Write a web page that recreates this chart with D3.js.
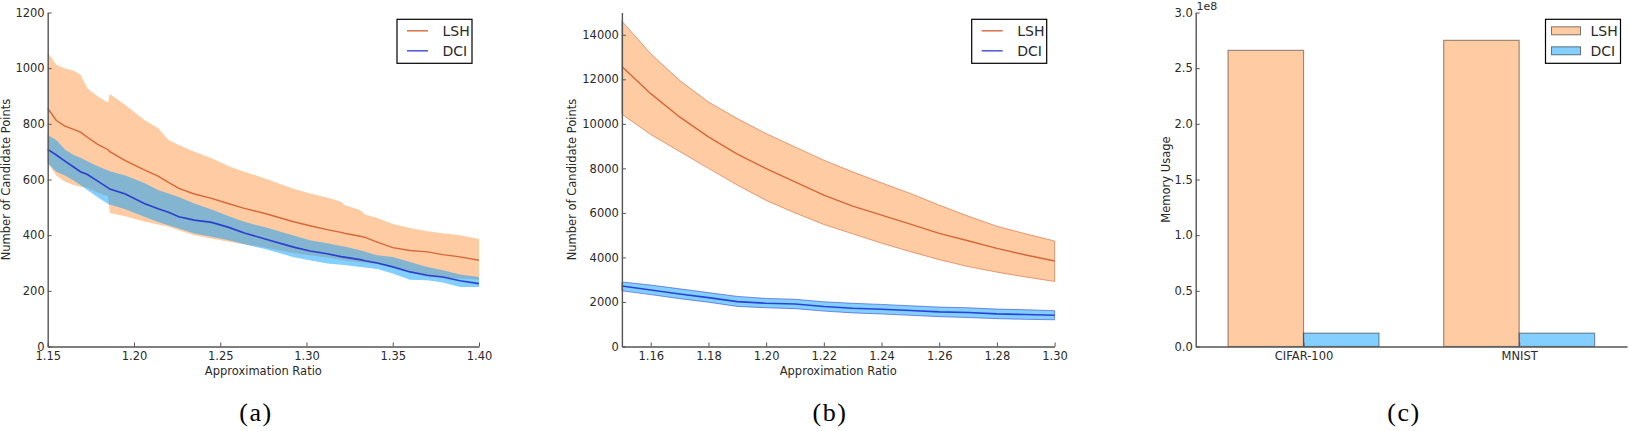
<!DOCTYPE html>
<html>
<head>
<meta charset="utf-8">
<script src="https://cdn.jsdelivr.net/npm/d3@7"></script>
<style>
  body { margin: 0; background: #fff; }
  svg text { font-family: "DejaVu Sans", sans-serif; }
</style>
</head>
<body>
<svg id="chart" width="1629" height="431"></svg>
<script>

// ---- panel (a): candidates vs ratio, uneven x samples ----
const ratioA   = [1.150, 1.155, 1.160, 1.165, 1.169, 1.173, 1.179, 1.185, 1.186, 1.195, 1.206, 1.214, 1.220, 1.226, 1.235, 1.245, 1.255,
                  1.264, 1.276, 1.292, 1.302, 1.312, 1.320, 1.322, 1.331, 1.334, 1.341, 1.350, 1.360, 1.370, 1.379, 1.389, 1.400];
const lshHiA   = [1056, 1012, 999, 991, 976, 928, 898, 876, 907, 868, 814, 784, 742, 724, 700, 676, 648,
                  628, 604, 568, 550, 535, 520, 508, 490, 474, 462, 440, 426, 414, 407, 400, 386];
const lshMeanA = [856, 812, 792, 780, 770, 752, 726, 707, 700, 668, 635, 612, 590, 568, 548, 532, 513,
                  496, 478, 449, 434, 420, 410, 407, 396, 392, 375, 355, 345, 340, 330, 322, 310];
const lshLoA   = [660, 614, 592, 580, 574, 570, 552, 540, 480, 468, 449, 438, 430, 418, 400, 388, 376,
                  367, 356, 336, 328, 320, 312, 310, 302, 300, 296, 286, 268, 250, 247, 244, 240];
const dciHiA   = [760, 742, 708, 688, 678, 666, 648, 632, 630, 614, 587, 562, 550, 537, 514, 492, 468,
                  448, 428, 400, 382, 371, 361, 359, 346, 340, 328, 322, 304, 286, 274, 259, 250];
const dciMeanA = [708, 688, 666, 645, 628, 618, 594, 570, 566, 548, 514, 495, 482, 466, 454, 446, 428,
                  408, 386, 358, 343, 333, 323, 321, 312, 308, 300, 286, 268, 256, 250, 236, 226];
const dciLoA   = [658, 628, 614, 596, 580, 562, 536, 512, 510, 493, 466, 447, 436, 424, 406, 394, 382,
                  367, 350, 322, 310, 298, 294, 293, 286, 284, 278, 262, 240, 238, 230, 214, 214];
const ticksA   = [1.15, 1.20, 1.25, 1.30, 1.35, 1.40];
const yTicksA  = [0, 200, 400, 600, 800, 1000, 1200];

// ---- panel (b) ----
const ratioB   = [1.15, 1.16, 1.17, 1.18, 1.19, 1.20, 1.21, 1.22, 1.23, 1.24, 1.25, 1.26, 1.27, 1.28, 1.29, 1.30];
const lshHiB   = [14612, 13148, 11953, 10982, 10235, 9562, 8965, 8367, 7844, 7351, 6873, 6350, 5857, 5400, 5060, 4740];
const lshMeanB = [12580, 11355, 10310, 9413, 8636, 7993, 7396, 6798, 6305, 5902, 5498, 5080, 4751, 4408, 4109, 3840];
const lshLoB   = [10430, 9520, 8760, 8000, 7250, 6560, 6000, 5480, 5060, 4640, 4260, 3900, 3590, 3340, 3120, 2920];
const dciHiB   = [2900, 2760, 2590, 2420, 2250, 2160, 2120, 2010, 1940, 1890, 1830, 1770, 1740, 1680, 1650, 1610];
const dciMeanB = [2719, 2540, 2361, 2196, 2017, 1942, 1912, 1793, 1718, 1673, 1614, 1554, 1524, 1464, 1434, 1404];
const dciLoB   = [2500, 2330, 2150, 1990, 1800, 1740, 1700, 1590, 1510, 1460, 1400, 1340, 1300, 1250, 1220, 1200];
const ticksB   = [1.16, 1.18, 1.20, 1.22, 1.24, 1.26, 1.28, 1.30];
const yTicksB  = [0, 2000, 4000, 6000, 8000, 10000, 12000, 14000];

// ---- panel (c) ----
const datasets = ['CIFAR-100', 'MNIST'];
const memLSH   = [2.66e8, 2.75e8];
const memDCI   = [1.2e7, 1.2e7];
const yTicksC  = [0, 0.5e8, 1.0e8, 1.5e8, 2.0e8, 2.5e8, 3.0e8];

const seriesNames = ['LSH', 'DCI'];
const captions    = ['(a)', '(b)', '(c)'];

//-------------------------------------------------------------------------------

const LSH_LINE = '#CC4F1B', LSH_FILL = '#FF9848';
const DCI_LINE = '#1B2ACC', DCI_FILL = '#089FFF';
const AXIS = '#555', TXT = '#2a2a2a';
const TOP = 12.5, BOTTOM = 346.5;

const svg = d3.select('#chart');

//-------------------------------------------------------------------------------
// matplotlib-ish axes: only left & bottom spines, ticks pointing inward

function StyleAxis(g) {
    g.attr('font-family', null).attr('font-size', null);
    g.select('.domain').attr('stroke', AXIS).attr('stroke-width', 1.4);
    g.selectAll('.tick line').attr('stroke', AXIS).attr('stroke-width', 1);
    g.selectAll('.tick text').attr('font-size', 11.5).attr('fill', TXT);
}

function DrawAxes(x, y, xTicks, xFmt, yTicks, yFmt) {
    svg.append('g')
        .attr('transform', `translate(0,${BOTTOM})`)
        .call(d3.axisBottom(x).tickValues(xTicks).tickFormat(xFmt).tickSizeInner(-4).tickSizeOuter(0).tickPadding(5))
        .call(StyleAxis);
    svg.append('g')
        .attr('transform', `translate(${x.range()[0]},0)`)
        .call(d3.axisLeft(y).tickValues(yTicks).tickFormat(yFmt).tickSizeInner(-4).tickSizeOuter(0).tickPadding(3))
        .call(StyleAxis);
}

function AxisLabels(xMid, xText, yX, yText) {
    svg.append('text').attr('x', xMid).attr('y', 374.5)
        .attr('text-anchor', 'middle').attr('font-size', 11.5).attr('fill', TXT)
        .text(xText);
    svg.append('text')
        .attr('transform', `translate(${yX},${(TOP + BOTTOM) / 2}) rotate(-90)`)
        .attr('text-anchor', 'middle').attr('dy', '0.36em').attr('font-size', 11.5).attr('fill', TXT)
        .text(yText);
}

//-------------------------------------------------------------------------------
// legend box: kind 'line' for the band panels, 'patch' for the bar panel

function Legend(x0, kind) {
    const w = 75, h = 44, y0 = 19.3;
    const g = svg.append('g').attr('transform', `translate(${x0},${y0})`);
    g.append('rect').attr('width', w).attr('height', h)
        .attr('fill', '#fff').attr('stroke', '#000').attr('stroke-width', 1.2);
    seriesNames.forEach((name, i) => {
        const cy = 11.5 + i * 20;
        if (kind == 'line') {
            g.append('line').attr('x1', 10).attr('x2', 31).attr('y1', cy).attr('y2', cy)
                .attr('stroke', i ? DCI_LINE : LSH_LINE).attr('stroke-opacity', 0.8).attr('stroke-width', 1.5);
        } else {
            g.append('rect').attr('x', 6).attr('y', cy - 4).attr('width', 29).attr('height', 8)
                .attr('fill', i ? DCI_FILL : LSH_FILL).attr('fill-opacity', 0.5)
                .attr('stroke', '#000').attr('stroke-opacity', 0.5).attr('stroke-width', 1);
        }
        g.append('text').attr('x', kind == 'line' ? 45.5 : 45).attr('y', cy).attr('dy', '0.36em')
            .attr('font-size', 14).attr('fill', TXT).text(name);
    });
}

//-------------------------------------------------------------------------------

function BandPanel(p) {
    const x = d3.scaleLinear().domain(p.xDomain).range([p.left, p.right]);
    const y = d3.scaleLinear().domain(p.yDomain).range([BOTTOM, TOP]);

    const rows = p.xs.map((v, i) => ({
        x: v,
        lshHi: p.lshHi[i], lshMean: p.lshMean[i], lshLo: p.lshLo[i],
        dciHi: p.dciHi[i], dciMean: p.dciMean[i], dciLo: p.dciLo[i]
    }));

    const band = (lo, hi) => d3.area().x(d => x(d.x)).y0(d => y(d[lo])).y1(d => y(d[hi]));
    const mean = key => d3.line().x(d => x(d.x)).y(d => y(d[key]));

    const g = svg.append('g');
    g.append('path').datum(rows).attr('d', band('lshLo', 'lshHi'))
        .attr('fill', LSH_FILL).attr('fill-opacity', 0.5)
        .attr('stroke', p.edges ? LSH_LINE : 'none').attr('stroke-opacity', 0.5);
    g.append('path').datum(rows).attr('d', band('dciLo', 'dciHi'))
        .attr('fill', DCI_FILL).attr('fill-opacity', 0.5)
        .attr('stroke', p.edges ? DCI_LINE : 'none').attr('stroke-opacity', 0.5);
    g.append('path').datum(rows).attr('d', mean('lshMean'))
        .attr('fill', 'none').attr('stroke', LSH_LINE).attr('stroke-opacity', 0.8).attr('stroke-width', 1.4);
    g.append('path').datum(rows).attr('d', mean('dciMean'))
        .attr('fill', 'none').attr('stroke', DCI_LINE).attr('stroke-opacity', 0.85).attr('stroke-width', 1.6);

    DrawAxes(x, y, p.xTicks, d3.format('.2f'), p.yTicks, d3.format('d'));
    AxisLabels((p.left + p.right) / 2, 'Approximation Ratio', p.yLabelX, 'Number of Candidate Points');
    Legend(p.legendX, 'line');
}

//-------------------------------------------------------------------------------

BandPanel({
    xs: ratioA, lshHi: lshHiA, lshMean: lshMeanA, lshLo: lshLoA, dciHi: dciHiA, dciMean: dciMeanA, dciLo: dciLoA,
    xDomain: [1.15, 1.40], yDomain: [0, 1200], left: 47.7, right: 479,
    xTicks: ticksA, yTicks: yTicksA, yLabelX: 5.5, legendX: 397, edges: false
});

BandPanel({
    xs: ratioB, lshHi: lshHiB, lshMean: lshMeanB, lshLo: lshLoB, dciHi: dciHiB, dciMean: dciMeanB, dciLo: dciLoB,
    xDomain: [1.15, 1.30], yDomain: [0, 15000], left: 621.9, right: 1054.6,
    xTicks: ticksB, yTicks: yTicksB, yLabelX: 572, legendX: 971.7, edges: true
});

// ---- bar panel (c) ----
{
    const width = 0.35;
    const x = d3.scaleLinear().domain([-0.15, 1.85]).range([1195.7, 1627]);
    const y = d3.scaleLinear().domain([0, 3e8]).range([BOTTOM, TOP]);

    const bars = datasets.flatMap((name, i) => [
        { i, off: 0, v: memLSH[i], fill: LSH_FILL },
        { i, off: width, v: memDCI[i], fill: DCI_FILL }
    ]);

    svg.append('g').selectAll('rect').data(bars).join('rect')
        .attr('x', d => x(d.i + d.off))
        .attr('width', d => x(d.i + d.off + width) - x(d.i + d.off))
        .attr('y', d => y(d.v))
        .attr('height', d => y(0) - y(d.v))
        .attr('fill', d => d.fill).attr('fill-opacity', 0.5)
        .attr('stroke', '#000').attr('stroke-opacity', 0.4).attr('stroke-width', 1.2);

    DrawAxes(x, y, datasets.map((d, i) => i + width), (d, i) => datasets[i],
             yTicksC, d => d3.format('.1f')(d / 1e8));

    svg.append('text').attr('x', 1196.5).attr('y', 9.5)
        .attr('font-size', 11).attr('fill', TXT).text('1e8');

    AxisLabels(1411, '', 1166, 'Memory Usage');
    Legend(1545.5, 'patch');
}

// ---- sub-figure captions ----
svg.selectAll('text.caption').data(captions).join('text')
    .attr('class', 'caption')
    .attr('x', (d, i) => [256, 830, 1404][i])
    .attr('y', 421)
    .attr('text-anchor', 'middle')
    .style('font-family', '"Liberation Serif", "Times New Roman", serif')
    .attr('font-size', 26)
    .attr('letter-spacing', 1.5)
    .attr('fill', '#000')
    .text(d => d);

</script>
</body>
</html>
